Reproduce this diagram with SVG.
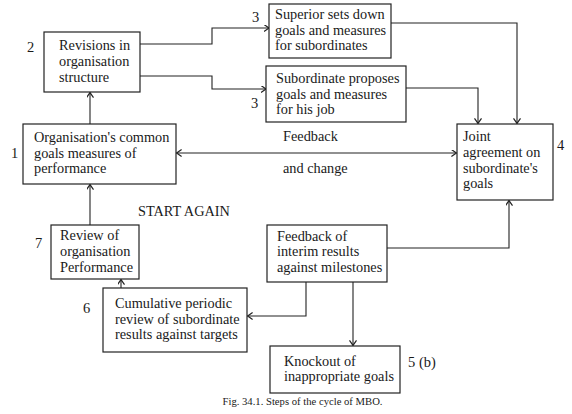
<svg xmlns="http://www.w3.org/2000/svg" width="572" height="414" viewBox="0 0 572 414">
<style>
.box{fill:#fff;stroke:#222;stroke-width:1.2}
.t{font-family:"Liberation Serif","Times New Roman",serif;font-size:14.3px;fill:#1a1a1a}
.n{font-family:"Liberation Serif","Times New Roman",serif;font-size:14.5px;fill:#1a1a1a}
.cap{font-family:"Liberation Serif","Times New Roman",serif;font-size:10.5px;fill:#1a1a1a}
.c{fill:none;stroke:#222;stroke-width:1.1}
</style>
<defs>
<marker id="ah" markerUnits="userSpaceOnUse" markerWidth="8" markerHeight="8" refX="5" refY="3.5" orient="auto-start-reverse">
<path d="M0,0 L5,3.5 L0,7" fill="none" stroke="#222" stroke-width="1.2"/>
</marker>
</defs>
<rect width="572" height="414" fill="#fff"/>
<g id="connectors">
<path class="c" d="M90,124 V92.6" marker-end="url(#ah)"/>
<path class="c" d="M140,44 H212 V28 H269" marker-end="url(#ah)"/>
<path class="c" d="M140,76 H212 V89 H266" marker-end="url(#ah)"/>
<path class="c" d="M391,23 H517 V123.4" marker-end="url(#ah)"/>
<path class="c" d="M406,88 H478 V123.4" marker-end="url(#ah)"/>
<path class="c" d="M176.6,153 H456.4" marker-start="url(#ah)" marker-end="url(#ah)"/>
<path class="c" d="M387,248 H509 V200.6" marker-end="url(#ah)"/>
<path class="c" d="M306,282 V316 H247.6" marker-end="url(#ah)"/>
<path class="c" d="M353,282 V345.4" marker-end="url(#ah)"/>
<path class="c" d="M121,288 V279.6" marker-end="url(#ah)"/>
<path class="c" d="M90,225 V184.6" marker-end="url(#ah)"/>
</g>
<g id="n1">
<rect class="box" x="23" y="124" width="153" height="60"/>
<text class="t" x="34" y="142">Organisation's common</text>
<text class="t" x="34" y="157.5">goals measures of</text>
<text class="t" x="34" y="173">performance</text>
<text class="n" x="11" y="158">1</text>
</g>
<g id="n2">
<rect class="box" x="44" y="32" width="96" height="60"/>
<text class="t" x="59" y="50">Revisions in</text>
<text class="t" x="59" y="66">organisation</text>
<text class="t" x="59" y="82">structure</text>
<text class="n" x="27" y="52">2</text>
</g>
<g id="n3a">
<rect class="box" x="269" y="4" width="122" height="54"/>
<text class="t" x="275" y="19">Superior sets down</text>
<text class="t" x="275" y="34.5">goals and measures</text>
<text class="t" x="275" y="50">for subordinates</text>
<text class="n" x="252" y="22">3</text>
</g>
<g id="n3b">
<rect class="box" x="266" y="66" width="140" height="56"/>
<text class="t" x="276" y="83">Subordinate proposes</text>
<text class="t" x="276" y="99">goals and measures</text>
<text class="t" x="276" y="114">for his job</text>
<text class="n" x="251" y="108">3</text>
</g>
<g id="n4">
<rect class="box" x="457" y="124" width="96" height="76"/>
<text class="t" x="463" y="141">Joint</text>
<text class="t" x="463" y="157">agreement on</text>
<text class="t" x="463" y="172.5">subordinate's</text>
<text class="t" x="463" y="187.5">goals</text>
<text class="n" x="557" y="150">4</text>
</g>
<g id="feedback-label">
<text class="t" x="283" y="141">Feedback</text>
<text class="t" x="283" y="173">and change</text>
</g>
<g id="start-again">
<text class="t" x="138" y="215.5">START AGAIN</text>
</g>
<g id="n5">
<rect class="box" x="267" y="225" width="120" height="57"/>
<text class="t" x="277" y="240.5">Feedback of</text>
<text class="t" x="277" y="256">interim results</text>
<text class="t" x="277" y="271.5">against milestones</text>
</g>
<g id="n5b">
<rect class="box" x="270" y="346" width="130" height="47"/>
<text class="t" x="284" y="366">Knockout of</text>
<text class="t" x="284" y="381">inappropriate goals</text>
<text class="n" x="408" y="367">5 (b)</text>
</g>
<g id="n6">
<rect class="box" x="103" y="288" width="144" height="64"/>
<text class="t" x="115" y="308">Cumulative periodic</text>
<text class="t" x="115" y="323.5">review of subordinate</text>
<text class="t" x="115" y="339">results against targets</text>
<text class="n" x="83" y="313">6</text>
</g>
<g id="n7">
<rect class="box" x="51" y="225" width="88" height="54"/>
<text class="t" x="60" y="240">Review of</text>
<text class="t" x="60" y="256">organisation</text>
<text class="t" x="60" y="271.5">Performance</text>
<text class="n" x="35" y="248">7</text>
</g>
<g id="caption">
<text class="cap" x="222.5" y="405" textLength="160" lengthAdjust="spacingAndGlyphs">Fig. 34.1. Steps of the cycle of MBO.</text>
</g>
</svg>
